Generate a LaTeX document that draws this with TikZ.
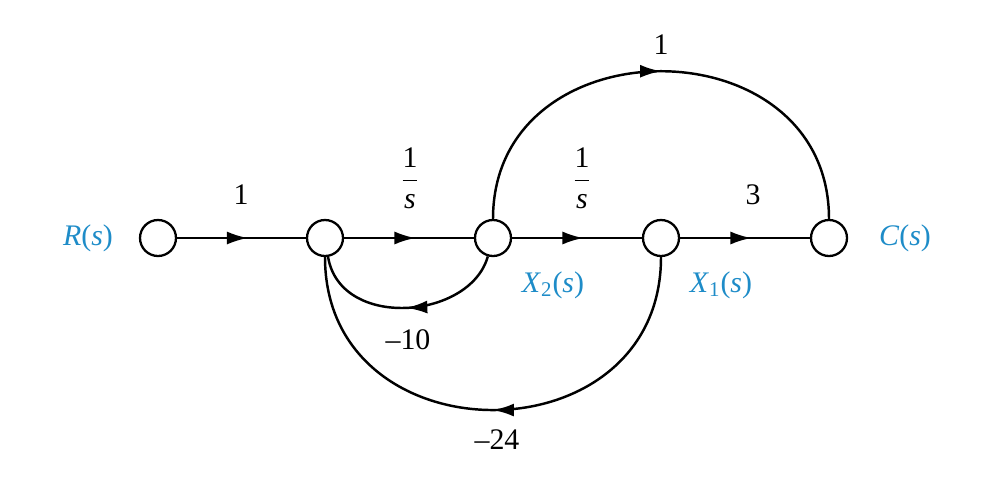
\documentclass[tikz,border=0pt]{standalone}
\usepackage{fontspec}
\setmainfont{Liberation Serif}
\usetikzlibrary{arrows.meta,decorations.markings}
\definecolor{lblue}{RGB}{30,140,200}
\begin{document}
\begin{tikzpicture}[x=0.02cm,y=-0.02cm,
  every node/.style={font=\fontsize{17}{20}\selectfont},
  sn/.style={circle,draw,line width=1.3pt,minimum size=0.72cm,inner sep=0pt,fill=white},
  br/.style={line width=1.4pt,postaction={decorate},decoration={markings,mark=at position #1 with {\arrow{Latex[length=0.42cm,width=0.26cm]}}}},
  br/.default=0.55,
  lb/.style={text=lblue}]
\useasboundingbox (0,0) rectangle (984,481);
\node[sn] (r) at (158,238) {};
\node[sn] (a) at (325,238) {};
\node[sn] (b) at (493,238) {};
\node[sn] (c) at (661,238) {};
\node[sn] (d) at (829,238) {};
\draw[br] (r) -- (a);
\draw[br] (a) -- (b);
\draw[br] (b) -- (c);
\draw[br] (c) -- (d);
\draw[br=0.5] (b) .. controls (493,22) and (829,22) .. (d);
\draw[br=0.5] (b) .. controls (470,320) and (340,330) .. (a);
\draw[br=0.5] (c) .. controls (661,461) and (325,461) .. (a);
\node[lb] (rl) at (88,238) {\textit{R}(\textit{s})};
\node[lb] (cl) at (905,238) {\textit{C}(\textit{s})};
\node[lb] (x2) at (553,285) {\textit{X}\textsubscript{2}(\textit{s})};
\node[lb] (x1) at (721,285) {\textit{X}\textsubscript{1}(\textit{s})};
\node (l1) at (241,195) {1};
\node (l2) at (410,178) {$\displaystyle\frac{\mbox{1}}{\mbox{\itshape s}}$};
\node (l3) at (582,178) {$\displaystyle\frac{\mbox{1}}{\mbox{\itshape s}}$};
\node (l4) at (753,195) {3};
\node (l5) at (661,45) {1};
\node (l6) at (408,340) {\textendash10};
\node (l7) at (497,440) {\textendash24};
\end{tikzpicture}
\end{document}
